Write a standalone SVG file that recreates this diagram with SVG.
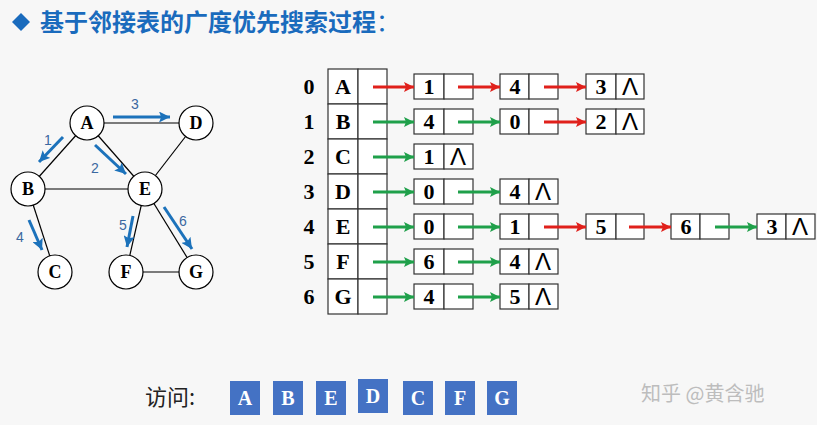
<svg xmlns="http://www.w3.org/2000/svg" width="817" height="425" viewBox="0 0 817 425">
<defs>
<style>
.bg{fill:#f7f7f7}
.title{font-family:"Noto Sans CJK SC","Noto Sans",sans-serif;font-weight:bold;font-size:24px;fill:#1a6bbd}
.gc{fill:#fff;stroke:#000;stroke-width:1.2}
.ge{stroke:#000;stroke-width:1.2}
.gl{font-family:"Liberation Serif",serif;font-weight:bold;font-size:18px;text-anchor:middle;fill:#000}
.ba{stroke:#1c72bb;stroke-width:3;fill:none;marker-end:url(#mb)}
.bn{font-family:"Liberation Sans",sans-serif;font-size:14px;fill:#3b68a0;text-anchor:middle}
.cell{fill:#fff;stroke:#333;stroke-width:1.2}
.big{font-family:"Liberation Serif",serif;font-weight:bold;font-size:22px;text-anchor:middle;fill:#000}
.nil{font-family:"Liberation Sans",sans-serif;font-size:24px;text-anchor:middle;fill:#000}
.r{stroke:#e0201b;stroke-width:3;marker-end:url(#mr)}
.g{stroke:#1fa04a;stroke-width:3;marker-end:url(#mg)}
.vb{fill:#4472c4}
.vt{font-family:"Liberation Serif",serif;font-weight:bold;font-size:20px;text-anchor:middle;fill:#fff}
.lab{font-family:"Noto Sans CJK SC",sans-serif;font-size:22px;fill:#222}
.wm{font-family:"Noto Sans CJK SC",sans-serif;font-size:20px;fill:#bdbdbd}
</style>
<marker id="mr" viewBox="0 0 10 10" refX="10" refY="5" markerWidth="11" markerHeight="10" markerUnits="userSpaceOnUse" orient="auto"><path d="M0,0 L10,5 L0,10 L2,5 z" fill="#e0201b"/></marker>
<marker id="mg" viewBox="0 0 10 10" refX="10" refY="5" markerWidth="11" markerHeight="10" markerUnits="userSpaceOnUse" orient="auto"><path d="M0,0 L10,5 L0,10 L2,5 z" fill="#1fa04a"/></marker>
<marker id="mb" viewBox="0 0 10 10" refX="10" refY="5" markerWidth="11" markerHeight="11" markerUnits="userSpaceOnUse" orient="auto"><path d="M0,0 L10,5 L0,10 L2,5 z" fill="#1c72bb"/></marker>
</defs>
<rect class="bg" x="0" y="0" width="817" height="425"/>

<g id="title">
<path d="M21,13 L30,22 L21,31 L12,22 z" fill="#1a6bbd"/>
<text class="title" x="40" y="31">基于邻接表的广度优先搜索过程<tspan font-weight="normal">：</tspan></text>
</g>

<g id="graph-edges">
<line class="ge" x1="87" y1="123" x2="196" y2="123"/>
<line class="ge" x1="87" y1="123" x2="28" y2="189"/>
<line class="ge" x1="87" y1="123" x2="145" y2="189"/>
<line class="ge" x1="28" y1="189" x2="145" y2="189"/>
<line class="ge" x1="196" y1="123" x2="145" y2="189"/>
<line class="ge" x1="28" y1="189" x2="55" y2="272"/>
<line class="ge" x1="145" y1="189" x2="126" y2="272"/>
<line class="ge" x1="145" y1="189" x2="196" y2="272"/>
<line class="ge" x1="126" y1="272" x2="196" y2="272"/>
</g>
<g id="gA"><circle class="gc" cx="87" cy="123" r="17"/><text class="gl" x="87" y="129">A</text></g>
<g id="gB"><circle class="gc" cx="28" cy="189" r="17"/><text class="gl" x="28" y="195">B</text></g>
<g id="gC"><circle class="gc" cx="55" cy="272" r="17"/><text class="gl" x="55" y="278">C</text></g>
<g id="gD"><circle class="gc" cx="196" cy="123" r="17"/><text class="gl" x="196" y="129">D</text></g>
<g id="gE"><circle class="gc" cx="145" cy="189" r="17"/><text class="gl" x="145" y="195">E</text></g>
<g id="gF"><circle class="gc" cx="126" cy="272" r="17"/><text class="gl" x="126" y="278">F</text></g>
<g id="gG"><circle class="gc" cx="196" cy="272" r="17"/><text class="gl" x="196" y="278">G</text></g>
<g id="traversal-arrows">
<line class="ba" x1="113" y1="117" x2="170" y2="117"/>
<line class="ba" x1="63" y1="137" x2="39" y2="162"/>
<line class="ba" x1="95" y1="145" x2="126" y2="174"/>
<line class="ba" x1="29" y1="220" x2="42" y2="250"/>
<line class="ba" x1="133" y1="216" x2="127" y2="247"/>
<line class="ba" x1="164" y1="207" x2="192" y2="249"/>
<text class="bn" x="135" y="109">3</text>
<text class="bn" x="48" y="145">1</text>
<text class="bn" x="95" y="173">2</text>
<text class="bn" x="20" y="242">4</text>
<text class="bn" x="123" y="230">5</text>
<text class="bn" x="183" y="226">6</text>
</g>

<g id="table">
<text class="big" x="309" y="94">0</text>
<text class="big" x="309" y="129">1</text>
<text class="big" x="309" y="164">2</text>
<text class="big" x="309" y="199">3</text>
<text class="big" x="309" y="234">4</text>
<text class="big" x="309" y="269">5</text>
<text class="big" x="309" y="304">6</text>
<g id="hA"><rect class="cell" x="328" y="69" width="30" height="35"/><rect class="cell" x="358" y="69" width="29" height="35"/><text class="big" x="343" y="94">A</text></g>
<g id="hB"><rect class="cell" x="328" y="104" width="30" height="35"/><rect class="cell" x="358" y="104" width="29" height="35"/><text class="big" x="343" y="129">B</text></g>
<g id="hC"><rect class="cell" x="328" y="139" width="30" height="35"/><rect class="cell" x="358" y="139" width="29" height="35"/><text class="big" x="343" y="164">C</text></g>
<g id="hD"><rect class="cell" x="328" y="174" width="30" height="35"/><rect class="cell" x="358" y="174" width="29" height="35"/><text class="big" x="343" y="199">D</text></g>
<g id="hE"><rect class="cell" x="328" y="209" width="30" height="35"/><rect class="cell" x="358" y="209" width="29" height="35"/><text class="big" x="343" y="234">E</text></g>
<g id="hF"><rect class="cell" x="328" y="244" width="30" height="35"/><rect class="cell" x="358" y="244" width="29" height="35"/><text class="big" x="343" y="269">F</text></g>
<g id="hG"><rect class="cell" x="328" y="279" width="30" height="35"/><rect class="cell" x="358" y="279" width="29" height="35"/><text class="big" x="343" y="304">G</text></g>
</g>

<g id="list-nodes">
<g id="n0a"><rect class="cell" x="414" y="74" width="30" height="25"/><rect class="cell" x="444" y="74" width="29" height="25"/><text class="big" x="429" y="94">1</text></g>
<g id="n0b"><rect class="cell" x="500" y="74" width="29" height="25"/><rect class="cell" x="529" y="74" width="29" height="25"/><text class="big" x="515" y="94">4</text></g>
<g id="n0c"><rect class="cell" x="586" y="74" width="30" height="25"/><rect class="cell" x="616" y="74" width="28" height="25"/><text class="big" x="601" y="94">3</text><text class="nil" x="630" y="95">Λ</text></g>
<g id="n1a"><rect class="cell" x="414" y="109" width="30" height="25"/><rect class="cell" x="444" y="109" width="29" height="25"/><text class="big" x="429" y="129">4</text></g>
<g id="n1b"><rect class="cell" x="500" y="109" width="29" height="25"/><rect class="cell" x="529" y="109" width="29" height="25"/><text class="big" x="515" y="129">0</text></g>
<g id="n1c"><rect class="cell" x="586" y="109" width="30" height="25"/><rect class="cell" x="616" y="109" width="28" height="25"/><text class="big" x="601" y="129">2</text><text class="nil" x="630" y="130">Λ</text></g>
<g id="n2a"><rect class="cell" x="414" y="144" width="30" height="25"/><rect class="cell" x="444" y="144" width="29" height="25"/><text class="big" x="429" y="164">1</text><text class="nil" x="458" y="165">Λ</text></g>
<g id="n3a"><rect class="cell" x="414" y="179" width="30" height="25"/><rect class="cell" x="444" y="179" width="29" height="25"/><text class="big" x="429" y="199">0</text></g>
<g id="n3b"><rect class="cell" x="500" y="179" width="29" height="25"/><rect class="cell" x="529" y="179" width="29" height="25"/><text class="big" x="515" y="199">4</text><text class="nil" x="543" y="200">Λ</text></g>
<g id="n4a"><rect class="cell" x="414" y="214" width="30" height="25"/><rect class="cell" x="444" y="214" width="29" height="25"/><text class="big" x="429" y="234">0</text></g>
<g id="n4b"><rect class="cell" x="500" y="214" width="29" height="25"/><rect class="cell" x="529" y="214" width="29" height="25"/><text class="big" x="515" y="234">1</text></g>
<g id="n4c"><rect class="cell" x="586" y="214" width="30" height="25"/><rect class="cell" x="616" y="214" width="28" height="25"/><text class="big" x="601" y="234">5</text></g>
<g id="n4d"><rect class="cell" x="671" y="214" width="29" height="25"/><rect class="cell" x="700" y="214" width="29" height="25"/><text class="big" x="686" y="234">6</text></g>
<g id="n4e"><rect class="cell" x="757" y="214" width="29" height="25"/><rect class="cell" x="786" y="214" width="29" height="25"/><text class="big" x="772" y="234">3</text><text class="nil" x="800" y="235">Λ</text></g>
<g id="n5a"><rect class="cell" x="414" y="249" width="30" height="25"/><rect class="cell" x="444" y="249" width="29" height="25"/><text class="big" x="429" y="269">6</text></g>
<g id="n5b"><rect class="cell" x="500" y="249" width="29" height="25"/><rect class="cell" x="529" y="249" width="29" height="25"/><text class="big" x="515" y="269">4</text><text class="nil" x="543" y="270">Λ</text></g>
<g id="n6a"><rect class="cell" x="414" y="284" width="30" height="25"/><rect class="cell" x="444" y="284" width="29" height="25"/><text class="big" x="429" y="304">4</text></g>
<g id="n6b"><rect class="cell" x="500" y="284" width="29" height="25"/><rect class="cell" x="529" y="284" width="29" height="25"/><text class="big" x="515" y="304">5</text><text class="nil" x="543" y="305">Λ</text></g>
</g>

<g id="connectors">
<line class="r" x1="373" y1="87" x2="414" y2="87"/>
<line class="r" x1="458" y1="87" x2="500" y2="87"/>
<line class="r" x1="544" y1="87" x2="586" y2="87"/>
<line class="g" x1="373" y1="122" x2="414" y2="122"/>
<line class="g" x1="458" y1="122" x2="500" y2="122"/>
<line class="r" x1="544" y1="122" x2="586" y2="122"/>
<line class="g" x1="373" y1="157" x2="414" y2="157"/>
<line class="g" x1="373" y1="192" x2="414" y2="192"/>
<line class="g" x1="458" y1="192" x2="500" y2="192"/>
<line class="g" x1="373" y1="227" x2="414" y2="227"/>
<line class="g" x1="458" y1="227" x2="500" y2="227"/>
<line class="r" x1="544" y1="227" x2="586" y2="227"/>
<line class="r" x1="629" y1="227" x2="671" y2="227"/>
<line class="g" x1="715" y1="227" x2="757" y2="227"/>
<line class="g" x1="373" y1="262" x2="414" y2="262"/>
<line class="g" x1="458" y1="262" x2="500" y2="262"/>
<line class="g" x1="373" y1="297" x2="414" y2="297"/>
<line class="g" x1="458" y1="297" x2="500" y2="297"/>
</g>

<g id="visit">
<text class="lab" x="145" y="405">访问:</text>
<g id="vA"><rect class="vb" x="230" y="381" width="30" height="34"/><text class="vt" x="245" y="405">A</text></g>
<g id="vB"><rect class="vb" x="273" y="381" width="30" height="34"/><text class="vt" x="288" y="405">B</text></g>
<g id="vE"><rect class="vb" x="316" y="381" width="30" height="34"/><text class="vt" x="331" y="405">E</text></g>
<g id="vD"><rect class="vb" x="358" y="379" width="30" height="34"/><text class="vt" x="373" y="403">D</text></g>
<g id="vC"><rect class="vb" x="403" y="381" width="30" height="34"/><text class="vt" x="418" y="405">C</text></g>
<g id="vF"><rect class="vb" x="445" y="381" width="30" height="34"/><text class="vt" x="460" y="405">F</text></g>
<g id="vG"><rect class="vb" x="487" y="381" width="30" height="34"/><text class="vt" x="502" y="405">G</text></g>
</g>

<text class="wm" x="641" y="401">知乎 @黄含驰</text>
</svg>
